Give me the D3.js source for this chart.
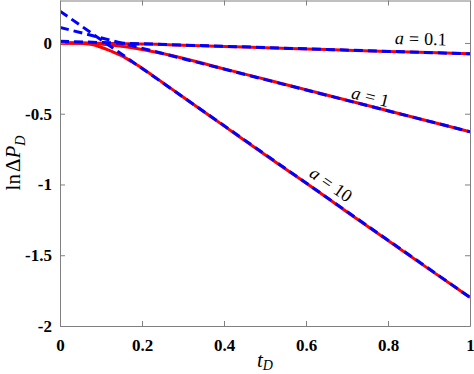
<!DOCTYPE html>
<html>
<head>
<meta charset="utf-8">
<script src="https://cdn.jsdelivr.net/npm/d3@7"></script>
<style>
  html, body { margin: 0; padding: 0; background: #fff; }
  svg { display: block; }
</style>
</head>
<body>
<svg id="chart" width="474" height="374"></svg>
<script>
// ---- data ----
const tGrid = [0, 0.025, 0.05, 0.075, 0.1, 0.125, 0.15, 0.175, 0.2, 0.25, 0.3, 0.4, 0.5, 0.6, 0.7, 0.8, 0.9, 1];
const exact_a01 = [0, 0, 0, -0.001, -0.002, -0.003, -0.004, -0.006, -0.007, -0.011, -0.016, -0.025, -0.033, -0.042, -0.051, -0.06, -0.068, -0.077];
const exact_a1  = [0, 0, -0.001, -0.004, -0.008, -0.015, -0.024, -0.034, -0.046, -0.075, -0.108, -0.183, -0.257, -0.331, -0.405, -0.479, -0.553, -0.627];
const exact_a10 = [0, 0, -0.002, -0.01, -0.03, -0.058, -0.09, -0.133, -0.178, -0.279, -0.382, -0.586, -0.79, -0.99, -1.194, -1.396, -1.598, -1.798];
const asymT = [0, 1];
const asym_a01 = [0.012, -0.077];
const asym_a1  = [0.11, -0.627];
const asym_a10 = [0.225, -1.798];
const xTicks = [0, 0.2, 0.4, 0.6, 0.8, 1];
const xTickLabels = ["0", "0.2", "0.4", "0.6", "0.8", "1"];
const yTicks = [-2, -1.5, -1, -0.5, 0];
const yTickLabels = ["-2", "-1.5", "-1", "-0.5", "0"];
const seriesLabels = ["0.1", "1", "10"];

// ---- layout ----
const svg = d3.select("#chart");
const L = 60, R = 470, T = 0.5, B = 326;
const x = d3.scaleLinear().domain([0, 1]).range([L, R]);
const y = d3.scaleLinear().domain([-2, 0.3]).range([B, T]);
const axisColor = "#808080";
const tickFont = "'Liberation Serif', 'Times New Roman', serif";

// clip
svg.append("clipPath").attr("id", "clip").append("rect")
  .attr("x", L).attr("y", T).attr("width", R - L).attr("height", B - T);

const g = svg.append("g").attr("clip-path", "url(#clip)");
const line = d3.line().x(d => x(d[0])).y(d => y(d[1])).curve(d3.curveMonotoneX);

const exacts = [exact_a01, exact_a1, exact_a10];
const asyms = [asym_a01, asym_a1, asym_a10];

exacts.forEach(arr => {
  g.append("path").datum(tGrid.map((t, i) => [t, arr[i]]))
    .attr("d", line).attr("fill", "none")
    .attr("stroke", "#ff0000").attr("stroke-width", 3);
});
asyms.forEach(arr => {
  g.append("path").datum(asymT.map((t, i) => [t, arr[i]]))
    .attr("d", d3.line().x(d => x(d[0])).y(d => y(d[1])))
    .attr("fill", "none")
    .attr("stroke", "#0000ff").attr("stroke-width", 3)
    .attr("stroke-dasharray", "9,5");
});

// ---- axes ----
function styleAxis(sel, showLabels) {
  sel.select(".domain").attr("stroke", axisColor).attr("stroke-width", 1);
  sel.selectAll(".tick line").attr("stroke", axisColor);
  sel.selectAll(".tick text")
    .attr("font-family", tickFont).attr("font-weight", "bold")
    .attr("font-size", 17).attr("fill", "#000");
  if (!showLabels) sel.selectAll(".tick text").remove();
}
const xb = svg.append("g").attr("transform", `translate(0,${B})`)
  .call(d3.axisBottom(x).tickValues(xTicks).tickFormat((d, i) => xTickLabels[i])
    .tickSizeInner(-5).tickSizeOuter(0).tickPadding(13));
styleAxis(xb, true);
const xt = svg.append("g").attr("transform", `translate(0,${T})`)
  .call(d3.axisTop(x).tickValues(xTicks).tickSizeInner(-5).tickSizeOuter(0));
styleAxis(xt, false);
const yl = svg.append("g").attr("transform", `translate(${L},0)`)
  .call(d3.axisLeft(y).tickValues(yTicks).tickFormat((d, i) => yTickLabels[i])
    .tickSizeInner(-5).tickSizeOuter(0).tickPadding(8));
styleAxis(yl, true);
const yr = svg.append("g").attr("transform", `translate(${R},0)`)
  .call(d3.axisRight(y).tickValues(yTicks).tickSizeInner(-5).tickSizeOuter(0));
styleAxis(yr, false);

// ---- axis titles ----
const mathFont = "'Liberation Serif', 'Times New Roman', serif";
const xl = svg.append("text").attr("x", 265).attr("y", 367)
  .attr("text-anchor", "middle").attr("font-family", mathFont).attr("font-size", 21);
xl.append("tspan").attr("font-style", "italic").text("t");
xl.append("tspan").attr("font-style", "italic").attr("font-size", 14).attr("dy", 3).text("D");

const ylab = svg.append("text")
  .attr("transform", "translate(20,163) rotate(-90)")
  .attr("text-anchor", "middle").attr("font-family", mathFont).attr("font-size", 21);
ylab.append("tspan").text("ln");
ylab.append("tspan").attr("dx", 2).text("Δ");
ylab.append("tspan").attr("font-style", "italic").text("P");
ylab.append("tspan").attr("font-style", "italic").attr("font-size", 14).attr("dy", 5).text("D");

// ---- curve labels (placed just above their lines, following their slope) ----
const labelPos = [
  {t: 0.88, v: 0.030, rot: 1.5},
  {t: 0.757, v: -0.38, rot: 14},
  {t: 0.661, v: -1.0, rot: 35}
];
seriesLabels.forEach((s, i) => {
  const p = labelPos[i];
  const tx = svg.append("text")
    .attr("transform", `translate(${x(p.t)},${y(p.v)}) rotate(${p.rot})`)
    .attr("text-anchor", "middle").attr("dominant-baseline", "central")
    .attr("font-family", mathFont).attr("font-size", 18);
  tx.append("tspan").attr("font-style", "italic").text("a");
  tx.append("tspan").attr("dx", 5).text("=");
  tx.append("tspan").attr("dx", 5).text(s);
});
</script>
</body>
</html>
